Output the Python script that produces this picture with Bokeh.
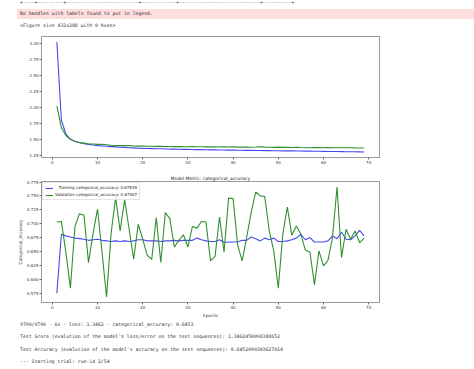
from bokeh.plotting import figure
from bokeh.models import Div, Legend, LegendItem, Range1d, FixedTicker, PrintfTickFormatter, ColumnDataSource
from bokeh.layouts import column
from bokeh.embed import file_html
from bokeh.resources import INLINE

epochs = list(range(1, 70))

train_loss = [3.03, 1.80, 1.58, 1.50, 1.465, 1.445, 1.43, 1.42, 1.41, 1.40,
              1.395, 1.39, 1.385, 1.38, 1.375, 1.372, 1.368, 1.365, 1.36, 1.357,
              1.355, 1.353, 1.351, 1.35, 1.348, 1.346, 1.345, 1.344, 1.342, 1.341,
              1.340, 1.338, 1.337, 1.336, 1.334, 1.333, 1.332, 1.331, 1.330, 1.329,
              1.328, 1.327, 1.326, 1.325, 1.324, 1.323, 1.322, 1.321, 1.320, 1.319,
              1.318, 1.318, 1.317, 1.316, 1.315, 1.314, 1.313, 1.312, 1.311, 1.310,
              1.309, 1.308, 1.307, 1.306, 1.305, 1.304, 1.303, 1.302, 1.300]

val_loss = [2.02, 1.68, 1.56, 1.50, 1.47, 1.45, 1.44, 1.43, 1.425, 1.42,
            1.42, 1.415, 1.405, 1.40, 1.40, 1.40, 1.402, 1.395, 1.393, 1.392,
            1.39, 1.39, 1.388, 1.389, 1.386, 1.387, 1.385, 1.386, 1.384, 1.383,
            1.384, 1.382, 1.383, 1.381, 1.380, 1.382, 1.379, 1.380, 1.378, 1.382,
            1.377, 1.376, 1.378, 1.375, 1.378, 1.382, 1.377, 1.374, 1.373, 1.376,
            1.372, 1.374, 1.371, 1.373, 1.370, 1.368, 1.366, 1.369, 1.370, 1.368,
            1.369, 1.367, 1.368, 1.366, 1.367, 1.368, 1.365, 1.364, 1.362]

train_acc = [0.575, 0.681, 0.678, 0.676, 0.674, 0.673, 0.672, 0.670, 0.671, 0.672,
             0.670, 0.669, 0.668, 0.669, 0.668, 0.669, 0.668, 0.669, 0.671, 0.671,
             0.669, 0.669, 0.669, 0.668, 0.669, 0.669, 0.670, 0.669, 0.670, 0.670,
             0.670, 0.674, 0.671, 0.669, 0.668, 0.668, 0.671, 0.666, 0.667, 0.667,
             0.667, 0.670, 0.670, 0.676, 0.673, 0.669, 0.674, 0.671, 0.674, 0.668,
             0.668, 0.669, 0.671, 0.674, 0.681, 0.671, 0.675, 0.667, 0.667, 0.667,
             0.669, 0.678, 0.673, 0.685, 0.672, 0.671, 0.678, 0.688, 0.678]

val_acc = [0.703, 0.704, 0.648, 0.584, 0.695, 0.718, 0.715, 0.630, 0.682, 0.726,
           0.648, 0.568, 0.682, 0.747, 0.687, 0.743, 0.690, 0.636, 0.699, 0.672,
           0.643, 0.636, 0.711, 0.630, 0.720, 0.709, 0.658, 0.670, 0.680, 0.658,
           0.695, 0.692, 0.704, 0.703, 0.633, 0.641, 0.712, 0.649, 0.746, 0.745,
           0.662, 0.633, 0.675, 0.720, 0.757, 0.750, 0.749, 0.687, 0.651, 0.584,
           0.681, 0.730, 0.679, 0.696, 0.681, 0.652, 0.649, 0.590, 0.651, 0.624,
           0.634, 0.675, 0.766, 0.639, 0.690, 0.672, 0.687, 0.666, 0.674]

x_ticks = [0, 10, 20, 30, 40, 50, 60, 70]
loss_ticks = [1.25, 1.50, 1.75, 2.00, 2.25, 2.50, 2.75, 3.00]
acc_ticks = [0.575, 0.600, 0.625, 0.650, 0.675, 0.700, 0.725, 0.750, 0.775]

train_label = "\u00a0\u00a0\u00a0Training categorical_accuracy: 0.67839"
val_label = "Validation categorical_accuracy: 0.67407"
plot_title = "Model Metric: categorical_accuracy"
x_label = "Epochs"
y_label = "Categorical_Accuracy"

BLUE = "#4848f0"
GREEN = "#2f902f"
FRAME = "#9a9a9a"
FONT = "DejaVu Sans"
MONO = "DejaVu Sans Mono"


def padded(vals):
    lo, hi = min(vals), max(vals)
    m = 0.05 * (hi - lo)
    return Range1d(lo - m, hi + m)


x_lo = min(epochs) - 0.05 * (max(epochs) - min(epochs))
x_hi = max(epochs) + 0.05 * (max(epochs) - min(epochs))


def style(p, yticks, yfmt):
    p.xgrid.visible = False
    p.ygrid.visible = False
    p.outline_line_color = FRAME
    p.outline_line_width = 1
    p.background_fill_color = "white"
    p.border_fill_color = "white"
    p.xaxis.ticker = FixedTicker(ticks=x_ticks)
    p.yaxis.ticker = FixedTicker(ticks=yticks)
    p.yaxis.formatter = PrintfTickFormatter(format=yfmt)
    for ax in (p.xaxis[0], p.yaxis[0]):
        ax.axis_line_color = FRAME
        ax.major_tick_line_color = "#666666"
        ax.major_tick_out = 2
        ax.major_tick_in = 0
        ax.minor_tick_out = 0
        ax.minor_tick_in = 0
        ax.major_label_text_font = FONT
        ax.major_label_text_font_size = "4px"
        ax.major_label_text_color = "#333333"
        ax.major_label_standoff = 1
        ax.axis_label_text_font = FONT
        ax.axis_label_text_font_size = "4.2px"
        ax.axis_label_text_font_style = "normal"
        ax.axis_label_text_color = "#333333"
        ax.axis_label_standoff = 1


# ---- loss figure
p1 = figure(frame_width=338, frame_height=121,
            min_border_left=41, min_border_right=9, min_border_top=2, min_border_bottom=13,
            x_range=Range1d(x_lo, x_hi), y_range=padded(train_loss + val_loss),
            output_backend="svg", toolbar_location=None)
style(p1, loss_ticks, "%.2f")
src_loss = ColumnDataSource(dict(x=epochs, tr=train_loss, va=val_loss))
p1.line("x", "tr", source=src_loss, line_color=BLUE, line_width=1.1)
p1.line("x", "va", source=src_loss, line_color=GREEN, line_width=1.1)

# ---- accuracy figure
p2 = figure(frame_width=338, frame_height=121,
            min_border_left=41, min_border_right=9, min_border_top=11, min_border_bottom=18,
            x_range=Range1d(x_lo, x_hi), y_range=padded(train_acc + val_acc),
            output_backend="svg", toolbar_location=None, title=plot_title)
style(p2, acc_ticks, "%.3f")
p2.title.text_font = FONT
p2.title.text_font_size = "4.5px"
p2.title.text_font_style = "normal"
p2.title.text_color = "#222222"
p2.title.align = "center"
p2.title.standoff = 2
p2.xaxis.axis_label = x_label
p2.yaxis.axis_label = y_label
src_acc = ColumnDataSource(dict(x=epochs, tr=train_acc, va=val_acc))
r_tr = p2.line("x", "tr", source=src_acc, line_color=BLUE, line_width=1.1)
r_va = p2.line("x", "va", source=src_acc, line_color=GREEN, line_width=1.1)
legend = Legend(items=[LegendItem(label=train_label, renderers=[r_tr]),
                       LegendItem(label=val_label, renderers=[r_va])],
                location="top_left")
legend.label_text_font = FONT
legend.label_text_font_size = "4px"
legend.label_text_color = "#222222"
legend.glyph_width = 8
legend.glyph_height = 4
legend.label_height = 4
legend.label_standoff = 2
legend.spacing = 2
legend.padding = 2
legend.margin = 1
legend.border_line_color = "#dddddd"
legend.border_line_alpha = 0.8
legend.background_fill_alpha = 0.8
p2.add_layout(legend)

# ---- notebook text
mono = f"font-family:'{MONO}',monospace;font-size:4.8px;color:#333333;white-space:pre;line-height:6px;"
dash = "+----+---------+-------------------------+------------+----------------------------+----------+"
top_html = (
    f'<div style="position:relative;width:474px;height:34px;">'
    f'<div style="position:absolute;left:20px;top:0px;{mono}">{dash}</div>'
    f'<div style="position:absolute;left:17px;top:9px;width:457px;height:10px;background:#fddddd;"></div>'
    f'<div style="position:absolute;left:20px;top:11px;{mono}">No handles with labels found to put in legend.</div>'
    f'<div style="position:absolute;left:20px;top:23px;{mono}">&lt;Figure size 432x288 with 0 Axes&gt;</div>'
    f'</div>'
)
lines = [
    "9799/9799 - 6s - loss: 1.3462 - categorical_accuracy: 0.6453",
    "Test Score (evalution of the model's loss/error on the test sequences): 1.3462450098388652",
    "Test Accuracy (evalution of the model's accuracy on the test sequences): 0.6452099303627014",
    "--- Starting trial: run-id 2/54",
]
tops = [2, 14, 27, 39]
bottom_html = '<div style="position:relative;width:474px;height:49px;">' + "".join(
    f'<div style="position:absolute;left:20px;top:{t}px;{mono}">{s}</div>'
    for s, t in zip(lines, tops)) + "</div>"

top_div = Div(text=top_html, width=474, height=34, margin=0)
bottom_div = Div(text=bottom_html, width=474, height=49, margin=0)

layout = column(top_div, p1, p2, bottom_div, spacing=0)
open("out.html", "w").write(file_html(layout, INLINE))
